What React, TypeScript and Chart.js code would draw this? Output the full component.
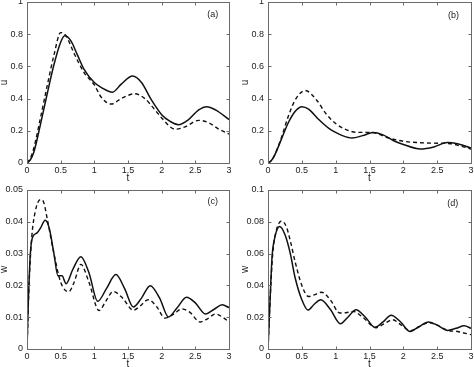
import React, { useEffect, useRef } from "react";
import { Chart, registerables } from "chart.js";

Chart.register(...registerables);

// ---------- Panel (a): u, solid vs dashed ----------
const A_SOLID_T = [0, 0.05, 0.1, 0.2, 0.3, 0.4, 0.5, 0.56, 0.65, 0.75, 0.85, 1.0, 1.1, 1.27, 1.4, 1.57, 1.7, 1.85, 2.0, 2.12, 2.25, 2.4, 2.55, 2.67, 2.8, 3.0];
const A_SOLID_U = [0, 0.02, 0.065, 0.24, 0.43, 0.61, 0.75, 0.79, 0.76, 0.67, 0.58, 0.5, 0.47, 0.44, 0.49, 0.54, 0.5, 0.39, 0.3, 0.26, 0.238, 0.27, 0.33, 0.35, 0.33, 0.27];
const A_DASH_T = [0, 0.05, 0.1, 0.2, 0.3, 0.4, 0.5, 0.58, 0.7, 0.85, 1.0, 1.1, 1.25, 1.4, 1.6, 1.75, 1.9, 2.0, 2.2, 2.35, 2.55, 2.7, 2.85, 3.0];
const A_DASH_U = [0, 0.03, 0.09, 0.28, 0.48, 0.67, 0.81, 0.79, 0.68, 0.56, 0.485, 0.41, 0.366, 0.4, 0.43, 0.4, 0.33, 0.28, 0.21, 0.225, 0.265, 0.25, 0.21, 0.18];

// ---------- Panel (b): u ----------
const B_SOLID_T = [0, 0.05, 0.1, 0.2, 0.3, 0.4, 0.5, 0.6, 0.75, 0.9, 1.0, 1.1, 1.24, 1.4, 1.55, 1.7, 1.85, 2.0, 2.25, 2.45, 2.65, 2.8, 3.0];
const B_SOLID_U = [0, 0.015, 0.05, 0.15, 0.25, 0.32, 0.35, 0.335, 0.27, 0.215, 0.19, 0.17, 0.155, 0.17, 0.19, 0.175, 0.14, 0.115, 0.087, 0.1, 0.128, 0.12, 0.093];
const B_DASH_T = [0, 0.05, 0.1, 0.2, 0.3, 0.4, 0.55, 0.72, 0.85, 1.0, 1.2, 1.35, 1.5, 1.6, 1.75, 2.0, 2.3, 2.5, 2.7, 2.85, 3.0];
const B_DASH_U = [0, 0.015, 0.05, 0.16, 0.29, 0.39, 0.45, 0.39, 0.31, 0.245, 0.2, 0.19, 0.19, 0.185, 0.16, 0.135, 0.125, 0.123, 0.12, 0.105, 0.087];

// ---------- Panel (c): w ----------
const C_SOLID_T = [0, 0.02, 0.05, 0.08, 0.15, 0.2, 0.27, 0.33, 0.4, 0.46, 0.52, 0.58, 0.68, 0.8, 0.92, 1.05, 1.18, 1.32, 1.45, 1.58, 1.7, 1.83, 1.97, 2.1, 2.23, 2.37, 2.5, 2.65, 2.78, 2.9, 3.0];
const C_SOLID_W = [0, 0.015, 0.03, 0.035, 0.0365, 0.038, 0.0405, 0.038, 0.03, 0.023, 0.023, 0.0205, 0.025, 0.029, 0.024, 0.015, 0.019, 0.0234, 0.019, 0.0132, 0.016, 0.0199, 0.016, 0.0101, 0.013, 0.0163, 0.0145, 0.011, 0.0125, 0.0139, 0.013];
const C_DASH_T = [0, 0.03, 0.07, 0.12, 0.2, 0.25, 0.3, 0.4, 0.5, 0.62, 0.7, 0.8, 0.92, 1.07, 1.17, 1.28, 1.42, 1.58, 1.68, 1.8, 1.92, 2.05, 2.18, 2.3, 2.42, 2.57, 2.68, 2.8, 2.92, 3.0];
const C_DASH_W = [0, 0.02, 0.035, 0.043, 0.047, 0.046, 0.041, 0.03, 0.021, 0.018, 0.021, 0.0266, 0.021, 0.0121, 0.015, 0.0181, 0.016, 0.0122, 0.0135, 0.0155, 0.0135, 0.0097, 0.011, 0.0126, 0.0115, 0.0085, 0.0095, 0.011, 0.0098, 0.0085];

// ---------- Panel (d): w ----------
const D_SOLID_T = [0, 0.03, 0.06, 0.1, 0.17, 0.25, 0.33, 0.4, 0.5, 0.59, 0.68, 0.78, 0.92, 1.07, 1.18, 1.3, 1.44, 1.58, 1.7, 1.82, 1.96, 2.1, 2.23, 2.37, 2.5, 2.65, 2.78, 2.9, 3.0];
const D_SOLID_W = [0, 0.03, 0.058, 0.07, 0.077, 0.072, 0.06, 0.045, 0.031, 0.0245, 0.028, 0.031, 0.025, 0.0159, 0.02, 0.0247, 0.02, 0.0136, 0.017, 0.0213, 0.017, 0.011, 0.014, 0.017, 0.015, 0.0117, 0.013, 0.0146, 0.013];
const D_DASH_T = [0, 0.03, 0.07, 0.12, 0.2, 0.27, 0.33, 0.4, 0.5, 0.6, 0.68, 0.79, 0.92, 1.06, 1.15, 1.26, 1.4, 1.6, 1.72, 1.84, 1.97, 2.1, 2.23, 2.37, 2.5, 2.65, 2.8, 3.0];
const D_DASH_W = [0, 0.03, 0.06, 0.074, 0.0805, 0.077, 0.068, 0.055, 0.04, 0.033, 0.034, 0.0357, 0.031, 0.0226, 0.0228, 0.0236, 0.02, 0.0134, 0.016, 0.0184, 0.015, 0.0115, 0.014, 0.0165, 0.015, 0.0118, 0.011, 0.009];

const X_MAX = 3;
const X_STEP = 0.5;

const FONT = "'Liberation Sans', Arial, Helvetica, sans-serif";
const FRAME = "#6a6a6a";
const TEXT = "#222";

const PAD_L = 40;
const PAD_T = 15;
const PAD_R = 10;
const PAD_B = 25;

const fmt = (v: any) => String(Math.round(Number(v) * 10000) / 10000);

const framePlugin = {
  id: "frame",
  afterDatasetsDraw(chart: any, _args: any, opts: any) {
    const { ctx, chartArea, scales } = chart;
    const { left, right, top, bottom } = chartArea;
    const xs = scales.x;
    const ys = scales.y;
    ctx.save();
    ctx.strokeStyle = FRAME;
    ctx.lineWidth = 1;
    const L = Math.round(left) + 0.5;
    const R = Math.round(right) + 0.5;
    const T = Math.round(top) + 0.5;
    const B = Math.round(bottom) + 0.5;
    ctx.strokeRect(L, T, R - L, B - T);
    const tl = 3;
    ctx.beginPath();
    xs.ticks.forEach((tk: any) => {
      const px = Math.round(xs.getPixelForValue(tk.value)) + 0.5;
      ctx.moveTo(px, B);
      ctx.lineTo(px, B - tl);
      ctx.moveTo(px, T);
      ctx.lineTo(px, T + tl);
    });
    ys.ticks.forEach((tk: any) => {
      const py = Math.round(ys.getPixelForValue(tk.value)) + 0.5;
      ctx.moveTo(L, py);
      ctx.lineTo(L + tl, py);
      ctx.moveTo(R, py);
      ctx.lineTo(R - tl, py);
    });
    ctx.stroke();
    if (opts && opts.label) {
      ctx.fillStyle = TEXT;
      ctx.font = `9px ${FONT}`;
      ctx.textAlign = "center";
      ctx.textBaseline = "middle";
      ctx.fillText(opts.label, xs.getPixelForValue(opts.lx), ys.getPixelForValue(opts.ly));
    }
    ctx.restore();
  },
};

type PanelProps = {
  left: number;
  top: number;
  w: number;
  h: number;
  solidT: number[];
  solidV: number[];
  dashT: number[];
  dashV: number[];
  yMax: number;
  yStep: number;
  yTitle: string;
  label: string;
  lx: number;
  ly: number;
};

function Panel(p: PanelProps) {
  const ref = useRef<HTMLCanvasElement | null>(null);
  const cw = p.w + PAD_L + PAD_R;
  const ch = p.h + PAD_T + PAD_B;
  useEffect(() => {
    if (!ref.current) return;
    const toPts = (ts: number[], vs: number[]) => ts.map((t, i) => ({ x: t, y: vs[i] }));
    const chart = new Chart(ref.current, {
      type: "line",
      data: {
        datasets: [
          {
            data: toPts(p.solidT, p.solidV),
            borderColor: "#111",
            borderWidth: 1.5,
            pointRadius: 0,
            fill: false,
            cubicInterpolationMode: "monotone",
          },
          {
            data: toPts(p.dashT, p.dashV),
            borderColor: "#111",
            borderWidth: 1.4,
            borderDash: [4, 3],
            pointRadius: 0,
            fill: false,
            cubicInterpolationMode: "monotone",
          },
        ],
      },
      options: {
        responsive: false,
        animation: false,
        devicePixelRatio: 1,
        layout: { padding: { left: 0, top: PAD_T, right: PAD_R, bottom: 0 } },
        plugins: {
          legend: { display: false },
          tooltip: { enabled: false },
          frame: { label: p.label, lx: p.lx, ly: p.ly },
        } as any,
        scales: {
          x: {
            type: "linear",
            min: 0,
            max: X_MAX,
            grid: { display: false, drawTicks: false },
            border: { display: false },
            ticks: {
              stepSize: X_STEP,
              padding: 2,
              maxRotation: 0,
              autoSkip: false,
              color: TEXT,
              font: { family: FONT, size: 9 },
              callback: fmt,
            },
            title: {
              display: true,
              text: "t",
              color: TEXT,
              font: { family: FONT, size: 10 },
              padding: { top: 0, bottom: 4 },
            },
            afterFit: (s: any) => {
              s.height = PAD_B;
            },
          },
          y: {
            type: "linear",
            min: 0,
            max: p.yMax,
            grid: { display: false, drawTicks: false },
            border: { display: false },
            ticks: {
              stepSize: p.yStep,
              padding: 4,
              autoSkip: false,
              color: TEXT,
              font: { family: FONT, size: 9 },
              callback: fmt,
            },
            title: {
              display: true,
              text: p.yTitle,
              color: TEXT,
              font: { family: FONT, size: 10 },
              padding: { top: 11, bottom: 0 },
            },
            afterFit: (s: any) => {
              s.width = PAD_L;
            },
          },
        },
      } as any,
      plugins: [framePlugin],
    });
    return () => chart.destroy();
  }, []);
  return (
    <canvas
      ref={ref}
      width={cw}
      height={ch}
      style={{
        position: "absolute",
        left: p.left - PAD_L,
        top: p.top - PAD_T,
        width: cw,
        height: ch,
      }}
    />
  );
}

export default function App() {
  return (
    <div
      style={{
        position: "absolute",
        left: 0,
        top: 0,
        width: 474,
        height: 367,
        overflow: "hidden",
        background: "#fff",
      }}
    >
      <Panel left={27} top={2} w={202} h={161} solidT={A_SOLID_T} solidV={A_SOLID_U} dashT={A_DASH_T} dashV={A_DASH_U} yMax={1} yStep={0.2} yTitle="u" label="(a)" lx={2.76} ly={0.925} />
      <Panel left={268} top={2} w={203} h={161} solidT={B_SOLID_T} solidV={B_SOLID_U} dashT={B_DASH_T} dashV={B_DASH_U} yMax={1} yStep={0.2} yTitle="u" label="(b)" lx={2.74} ly={0.913} />
      <Panel left={27} top={190} w={202} h={159} solidT={C_SOLID_T} solidV={C_SOLID_W} dashT={C_DASH_T} dashV={C_DASH_W} yMax={0.05} yStep={0.01} yTitle="w" label="(c)" lx={2.76} ly={0.0463} />
      <Panel left={268} top={190} w={203} h={159} solidT={D_SOLID_T} solidV={D_SOLID_W} dashT={D_DASH_T} dashV={D_DASH_W} yMax={0.1} yStep={0.02} yTitle="w" label="(d)" lx={2.73} ly={0.0912} />
    </div>
  );
}
